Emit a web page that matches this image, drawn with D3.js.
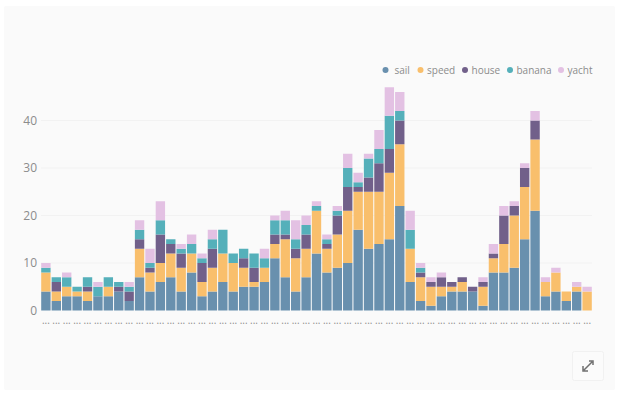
<!DOCTYPE html>
<html><head><meta charset="utf-8">
<script src="https://cdnjs.cloudflare.com/ajax/libs/d3/7.8.5/d3.min.js"></script>
<style>html,body{margin:0;padding:0;background:#fff}svg{display:block}text{font-family:"Open Sans",sans-serif}</style>
</head><body><div id="c"></div>
<script>
const seriesNames=["sail","speed","house","banana","yacht"];
const colors=["#6990ae","#f9bf6c","#71608a","#55b0ba","#e3c1e3"];
const sail=[4,2,3,3,2,3,3,4,2,7,4,6,7,4,8,3,4,6,4,5,5,6,11,7,4,7,12,8,9,10,17,13,14,15,22,6,2,1,3,4,4,4,1,8,8,9,15,21,3,4,2,4,0];
const speed=[4,2,2,1,2,0,2,0,0,6,4,4,5,5,4,3,5,6,6,4,1,3,3,8,7,6,9,5,7,11,8,12,11,14,13,7,5,4,2,1,2,0,4,3,6,11,11,15,3,4,2,1,4];
const house=[0,2,0,0,1,0,0,1,2,2,1,6,2,3,0,4,4,0,0,2,3,0,2,1,2,3,0,1,4,5,1,3,6,5,5,0,1,1,2,1,1,1,1,1,6,2,4,4,0,0,0,0,0];
const banana=[1,1,2,1,2,2,2,1,1,2,1,3,1,1,2,1,2,5,2,2,3,2,3,3,2,2,1,1,1,4,1,4,3,7,2,4,1,0,0,0,0,0,0,0,0,0,0,0,0,0,0,0,0];
const yacht=[1,0,1,0,0,1,0,0,1,2,3,4,0,1,2,1,2,0,0,0,0,2,1,2,4,2,1,1,1,3,2,1,4,6,4,4,1,1,1,0,0,0,1,2,2,1,1,2,1,1,0,1,1];
const yTicks=[0,10,20,30,40];
const W=618,H=394;
const svg=d3.select("#c").append("svg").attr("width",W).attr("height",H);
svg.append("rect").attr("x",4).attr("y",6).attr("width",611).attr("height",384).attr("rx",2).attr("fill","#fafafa");
const values=[sail,speed,house,banana,yacht];
const cats=d3.range(sail.length);
const rows=cats.map(i=>{const o={i};seriesNames.forEach((n,k)=>o[n]=values[k][i]);return o;});
const stack=d3.stack().keys(seriesNames)(rows);
const x=d3.scaleBand().domain(cats).range([41,592]).paddingInner(0.1).paddingOuter(0.02);
const y=d3.scaleLinear().domain([0,40]).range([310.5,120.5]);
const grid=svg.append("g");
grid.selectAll("line").data(yTicks.filter(d=>d>0)).join("line")
 .attr("x1",41).attr("x2",592).attr("y1",d=>y(d)).attr("y2",d=>y(d)).attr("stroke","#f2f2f2").attr("stroke-width",1);
const yAxis=d3.axisLeft(y).tickValues(yTicks).tickSize(0).tickPadding(4);
const yg=svg.append("g").attr("transform","translate(41,0)").call(yAxis);
yg.select(".domain").remove();
yg.selectAll("text").attr("fill","#8c8c8c").style("font-size","12px").style("font-family",'"Open Sans",sans-serif');
const xAxis=d3.axisBottom(x).tickFormat(()=>"...").tickSize(0).tickPadding(0);
const xg=svg.append("g").attr("transform","translate(0,317)").call(xAxis);
xg.select(".domain").remove();
xg.selectAll("text").attr("fill","#8c8c8c").style("font-size","10px").style("font-family",'"Open Sans",sans-serif');
stack.forEach((s,k)=>{
 svg.append("g").selectAll("rect").data(s).join("rect")
  .attr("x",d=>x(d.data.i)).attr("width",x.bandwidth())
  .attr("y",d=>y(d[1])).attr("height",d=>y(d[0])-y(d[1])).attr("fill",colors[k]);
});
const legendX=[385.5,420.5,465,510,561];
const legendT=[394.5,427,471.5,516.5,567.5];
const lg=svg.append("g");
seriesNames.forEach((n,k)=>{
 lg.append("circle").attr("cx",legendX[k]).attr("cy",70).attr("r",3).attr("fill",colors[k]);
 lg.append("text").attr("x",legendT[k]).attr("y",74).attr("fill","#8c8c8c").style("font-size","10px").text(n);
});
const b=svg.append("g");
b.append("rect").attr("x",572.5).attr("y",351.5).attr("width",31).attr("height",29).attr("rx",2).attr("fill","#fbfbfb").attr("stroke","#f1f1f1");
b.append("path").attr("d","M584 370 L592 362 M589 361 H593 V365 M583 366 V371 H588").attr("fill","none").attr("stroke","#707070").attr("stroke-width",1.5);
</script></body></html>
